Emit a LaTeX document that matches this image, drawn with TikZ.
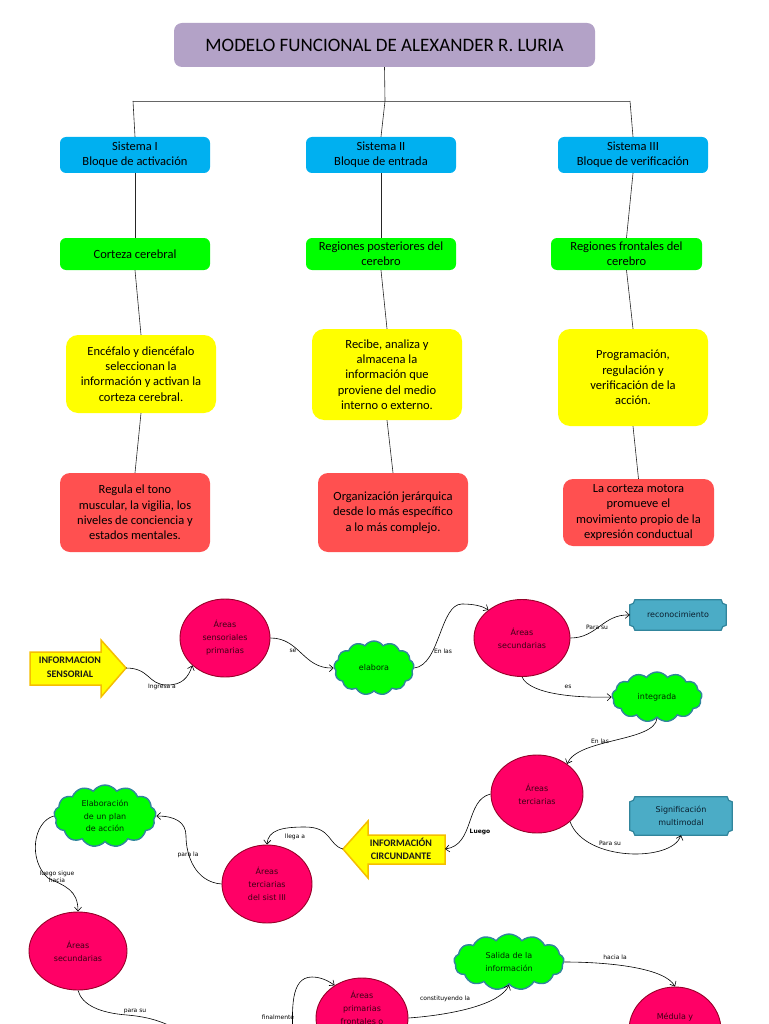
\documentclass[tikz,border=0pt]{standalone}
\usepackage{fontspec}
\setmainfont{Carlito}
\newfontfamily\dvs{DejaVu Sans}
\usetikzlibrary{shapes.geometric,shapes.symbols,arrows.meta,calc,backgrounds}

\definecolor{lav}{RGB}{179,162,199}
\definecolor{sysblue}{RGB}{0,176,240}
\definecolor{gbox}{RGB}{0,255,0}
\definecolor{ybox}{RGB}{255,255,0}
\definecolor{rbox}{RGB}{255,80,80}
\definecolor{ellfill}{RGB}{255,0,102}
\definecolor{elldraw}{RGB}{150,0,40}
\definecolor{elltxt}{RGB}{60,0,20}
\definecolor{cloudline}{RGB}{49,133,156}
\definecolor{cloudtxt}{RGB}{0,40,0}
\definecolor{plqfill}{RGB}{75,172,198}
\definecolor{plqtxt}{RGB}{10,30,45}
\definecolor{arrfill}{RGB}{255,255,0}
\definecolor{arrline}{RGB}{245,190,0}

\tikzset{
 box/.style={rounded corners=6pt, align=center, inner sep=1pt, font=\fontsize{12.5}{15.3}\selectfont, text=black},
 titlebox/.style={box, fill=lav, rounded corners=8pt, minimum width=421pt, minimum height=44pt, font=\fontsize{19}{22}\selectfont},
 sysbox/.style={box, fill=sysblue, minimum width=150pt, minimum height=36pt},
 grbox/.style={box, fill=gbox, minimum width=150pt, minimum height=32pt},
 yebox/.style={box, fill=ybox, rounded corners=12pt, minimum width=150pt},
 rebox/.style={box, fill=rbox, rounded corners=10pt, minimum width=150pt},
 tline/.style={line width=0.6pt, black!85},
 area/.style={ellipse, fill=ellfill, draw=elldraw, line width=0.9pt, inner sep=0pt, align=center, text=elltxt, font=\dvs\fontsize{8}{13}\selectfont},
 areatext/.style={inner sep=0pt, align=center, text=elltxt, font=\dvs\fontsize{8}{13}\selectfont},
 nube/.style={cloud, cloud puffs=13, cloud puff arc=110, cloud ignores aspect, fill=gbox, draw=cloudline, line width=1.4pt, inner sep=0pt, align=center, text=cloudtxt, font=\dvs\fontsize{8}{12.5}\selectfont},
 plqtext/.style={rectangle, inner sep=0pt, align=center, text=plqtxt, font=\dvs\fontsize{8}{13}\selectfont},
 plq/.style={fill=plqfill, draw=cloudline, line width=1.2pt},
 bigarrow/.style={fill=arrfill, draw=arrline, line width=1.5pt, line join=miter},
 arrtext/.style={align=center, font=\bfseries\fontsize{10}{13.5}\selectfont, text=black!90, inner sep=0pt},
 lbl/.style={font=\dvs\fontsize{6}{7.5}\selectfont, inner sep=0.5pt, align=center},
 conn/.style={line width=0.6pt, -{Straight Barb[length=4pt,width=7pt]}},
}

\newcommand\plaqueframe[1]{%
 \begin{scope}[on background layer]
 \path[plq] ($(#1.north west)+(5pt,0pt)$) -- ($(#1.north east)+(-5pt,0pt)$)
   arc[start angle=180,end angle=270,radius=5pt]
   -- ($(#1.south east)+(0pt,5pt)$)
   arc[start angle=90,end angle=180,radius=5pt]
   -- ($(#1.south west)+(5pt,0pt)$)
   arc[start angle=0,end angle=90,radius=5pt]
   -- ($(#1.north west)+(0pt,-5pt)$)
   arc[start angle=270,end angle=360,radius=5pt] -- cycle;
 \end{scope}}

\begin{document}
\begin{tikzpicture}[x=1pt,y=-1pt]
\useasboundingbox (0,0) rectangle (768,1024);
\clip (0,0) rectangle (768,1024);

% ---------- upper tree ----------
\node[titlebox] (title) at (384.5,45) {MODELO FUNCIONAL DE ALEXANDER R. LURIA};

\node[sysbox, text depth=3pt] (s1) at (135,155) {Sistema I\\Bloque de activación};
\node[sysbox, text depth=3pt] (s2) at (381,155) {Sistema II\\Bloque de entrada};
\node[sysbox, text depth=3pt] (s3) at (633,155) {Sistema III\\Bloque de verificación};

\node[grbox] (g1) at (135,254) {Corteza cerebral};
\node[grbox] (g2) at (381,254) {Regiones posteriores del\\cerebro};
\node[grbox, minimum width=151pt] (g3) at (626.5,254) {Regiones frontales del\\cerebro};

\node[yebox, minimum height=78pt] (y1) at (141,374) {Encéfalo y diencéfalo\\seleccionan la\\información  y activan la\\corteza cerebral.};
\node[yebox, minimum height=91pt] (y2) at (387,374.5) {Recibe, analiza y\\almacena la\\información que\\proviene  del medio\\interno o externo.};
\node[yebox, minimum height=97pt] (y3) at (633,377.5) {Programación,\\regulación y\\verificación de la\\acción.};

\node[rebox, minimum height=79pt] (r1) at (135,512.5) {Regula el tono\\muscular, la vigilia, los\\niveles de conciencia y\\estados mentales.};
\node[rebox, minimum height=79pt] (r2) at (393,512.5) {Organización jerárquica\\desde lo más específico\\a lo más complejo.};
\node[rebox, minimum height=67pt, minimum width=151pt] (r3) at (638.5,512.5) {La corteza motora\\promueve el\\movimiento propio de la\\expresión conductual};

\coordinate (jL) at (133,101);
\coordinate (jM) at (385,101);
\coordinate (jR) at (630,101);
\draw[line width=0.9pt, black!60] (jL) -- (jR);
\draw[tline] (title.south) -- (jM) -- (s2.north);
\draw[tline] (jL) -- (s1.north);
\draw[tline] (jR) -- (s3.north);
\draw[tline] (s1.south) -- (g1.north);
\draw[tline] (s2.south) -- (g2.north);
\draw[tline] (s3.south) -- (g3.north);
\draw[tline] (g1.south) -- (y1.north);
\draw[tline] (g2.south) -- (y2.north);
\draw[tline] (g3.south) -- (y3.north);
\draw[tline] (y1.south) -- (r1.north);
\draw[tline] (y2.south) -- (r2.north);
\draw[tline] (y3.south) -- (r3.north);

% ---------- concept map ----------
\path[bigarrow] (30,652) -- (101,652) -- (101,640) -- (126,668) -- (101,697) -- (101,685) -- (30,685) -- cycle;
\coordinate (instip) at (126,668);
\node[arrtext] (infs) at (70,667) {INFORMACION\\SENSORIAL};

\path[bigarrow] (343,849) -- (368,821) -- (368,835) -- (445,835) -- (445,864) -- (368,864) -- (368,878) -- cycle;
\coordinate (circtip) at (343,849);
\coordinate (circE) at (445,849);
\node[arrtext] (circ) at (401,849) {INFORMACIÓN\\CIRCUNDANTE};

\node[area, minimum width=90pt, minimum height=78pt] (asp) at (225,638) {Áreas\\sensoriales\\primarias};
\node[nube, minimum width=80pt, minimum height=54pt] (elab) at (374,668) {elabora};
\node[area, minimum width=96pt, minimum height=77pt] (asec) at (522,638) {Áreas\\secundarias};
\node[plqtext, minimum width=96pt, minimum height=30pt] (recon) at (678,615) {reconocimiento};
\plaqueframe{recon}
\node[nube, minimum width=90pt, minimum height=50pt] (integ) at (657,697) {integrada};
\node[area, minimum width=92pt, minimum height=78pt] (aterc) at (537,794) {Áreas\\terciarias};
\node[plqtext, minimum width=102pt, minimum height=38pt] (signif) at (681,816) {Significación\\multimodal};
\plaqueframe{signif}
\node[area, minimum width=90pt, minimum height=78pt] (aterc3) at (267,884) {Áreas\\terciarias\\del sist III};
\node[nube, minimum width=102pt, minimum height=62pt] (plan) at (105,816) {Elaboración\\de un plan\\de acción};
\node[area, minimum width=98pt, minimum height=78pt] (asec2) at (78,951) {Áreas\\secundarias};
\node[area, minimum width=92pt, minimum height=80pt] (aprim) at (362,1018) {};
\node[areatext] (aprimt) at (362,1007.5) {Áreas\\primarias\\frontales o};
\node[nube, minimum width=110pt, minimum height=56pt] (salida) at (509,962) {Salida de la\\información};
\node[area, minimum width=92pt, minimum height=86pt] (medula) at (675,1030) {};
\node[areatext] (medulat) at (675,1017) {Médula y};

\coordinate (offA) at (195,1040);
\coordinate (offB) at (293,1040);

% connectors
\draw[conn] (instip) .. controls (150,668) and (148,685) .. (167,685) .. controls (182,685) and (188,678) .. (asp.220);
\node[lbl] (l1) at (162,687) {Ingresa a};

\draw[conn] (asp.east) .. controls (300,638) and (303,669) .. (elab.west);
\node[lbl] (l2) at (293,651) {se};

\draw[conn] (elab.east) .. controls (440,665) and (440,604) .. (462,604) .. controls (474,604) and (482,606) .. (asec.140);
\node[lbl] (l3) at (443,651) {En las};

\draw[conn] (asec.east) .. controls (597,638) and (603,614) .. (recon.west);
\node[lbl] (l4) at (597,627) {Para su};

\draw[conn] (asec.south) .. controls (530,695) and (580,698) .. (integ.west);
\node[lbl] (l5) at (568,687) {es};

\draw[conn] (integ.south) .. controls (655,742) and (578,738) .. (aterc.45);
\node[lbl] (l6) at (600,741) {En las};

\draw[conn] (aterc.-40) .. controls (585,862) and (672,862) .. (signif.south);
\node[lbl] (l7) at (610,843) {Para su};

\draw[conn] (aterc.west) .. controls (465,800) and (475,845) .. (circE);
\node[lbl, font=\dvs\bfseries\fontsize{6}{7.5}\selectfont] (l8) at (480,832) {Luego};

\draw[conn] (circtip) .. controls (328,845) and (332,827) .. (305,827) .. controls (282,827) and (268,830) .. (aterc3.north);
\node[lbl] (l9) at (295,837) {llega a};

\draw[conn] (aterc3.west) .. controls (195,882) and (186,855) .. (186,836) .. controls (186,822) and (175,816) .. (plan.east);
\node[lbl] (l10) at (188,855) {para la};

\draw[conn] (plan.west) .. controls (33,822) and (28,860) .. (48,878) .. controls (65,886) and (78,890) .. (asec2.north);
\node[lbl] (l11) at (57,877) {luego sigue\\hacia};

\draw[line width=0.6pt] (asec2.south) .. controls (82,1005) and (100,1013) .. (127,1015) .. controls (150,1017) and (168,1022) .. (offA);
\node[lbl] (l12) at (135,1011) {para su};

\draw[conn] (offB) .. controls (292,1010) and (290,977) .. (312,977) .. controls (322,977) and (330,982) .. (aprim.130);
\node[lbl] (l13) at (278,1017) {finalmente};

\draw[conn] (aprim.east) .. controls (450,1015) and (500,1005) .. (salida.south);
\node[lbl] (l14) at (445,999) {constituyendo la};

\draw[conn] (salida.east) .. controls (610,962) and (665,968) .. (medula.north);
\node[lbl] (l15) at (615,957) {hacia la};
\end{tikzpicture}
\end{document}
